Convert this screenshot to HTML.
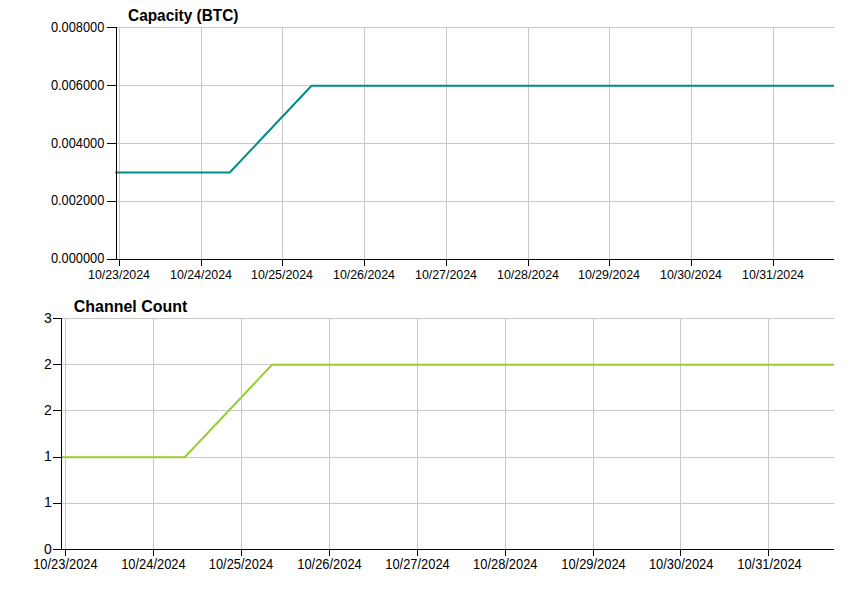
<!DOCTYPE html>
<html><head><meta charset="utf-8"><title>Charts</title>
<style>html,body{margin:0;padding:0;background:#fff;width:860px;height:600px;overflow:hidden}svg{display:block}</style>
</head><body>
<svg width="860" height="600" viewBox="0 0 860 600">
<g shape-rendering="crispEdges">
<line x1="117" y1="27.5" x2="834" y2="27.5" stroke="#c8c8c8"/>
<line x1="117" y1="85.5" x2="834" y2="85.5" stroke="#c8c8c8"/>
<line x1="117" y1="143.5" x2="834" y2="143.5" stroke="#c8c8c8"/>
<line x1="117" y1="201.5" x2="834" y2="201.5" stroke="#c8c8c8"/>
<line x1="119.5" y1="27" x2="119.5" y2="259" stroke="#c8c8c8"/>
<line x1="201.5" y1="27" x2="201.5" y2="259" stroke="#c8c8c8"/>
<line x1="282.5" y1="27" x2="282.5" y2="259" stroke="#c8c8c8"/>
<line x1="364.5" y1="27" x2="364.5" y2="259" stroke="#c8c8c8"/>
<line x1="446.5" y1="27" x2="446.5" y2="259" stroke="#c8c8c8"/>
<line x1="528.5" y1="27" x2="528.5" y2="259" stroke="#c8c8c8"/>
<line x1="609.5" y1="27" x2="609.5" y2="259" stroke="#c8c8c8"/>
<line x1="691.5" y1="27" x2="691.5" y2="259" stroke="#c8c8c8"/>
<line x1="773.5" y1="27" x2="773.5" y2="259" stroke="#c8c8c8"/>
<line x1="62" y1="318.5" x2="834" y2="318.5" stroke="#c8c8c8"/>
<line x1="62" y1="364.5" x2="834" y2="364.5" stroke="#c8c8c8"/>
<line x1="62" y1="410.5" x2="834" y2="410.5" stroke="#c8c8c8"/>
<line x1="62" y1="457.5" x2="834" y2="457.5" stroke="#c8c8c8"/>
<line x1="62" y1="503.5" x2="834" y2="503.5" stroke="#c8c8c8"/>
<line x1="65.5" y1="318" x2="65.5" y2="549" stroke="#c8c8c8"/>
<line x1="153.5" y1="318" x2="153.5" y2="549" stroke="#c8c8c8"/>
<line x1="241.5" y1="318" x2="241.5" y2="549" stroke="#c8c8c8"/>
<line x1="329.5" y1="318" x2="329.5" y2="549" stroke="#c8c8c8"/>
<line x1="417.5" y1="318" x2="417.5" y2="549" stroke="#c8c8c8"/>
<line x1="505.5" y1="318" x2="505.5" y2="549" stroke="#c8c8c8"/>
<line x1="593.5" y1="318" x2="593.5" y2="549" stroke="#c8c8c8"/>
<line x1="680.5" y1="318" x2="680.5" y2="549" stroke="#c8c8c8"/>
<line x1="768.5" y1="318" x2="768.5" y2="549" stroke="#c8c8c8"/>
</g>
<svg x="0" y="0" width="834" height="600" overflow="hidden">
<polyline points="115.3,172.5 229.75,172.5 311.5,85.7 840,85.7" fill="none" stroke="#008b8b" stroke-width="2" stroke-linejoin="round"/>
<polyline points="61.5,457.3 184.75,457.3 272,364.8 840,364.8" fill="none" stroke="#9acd32" stroke-width="2" stroke-linejoin="round"/>
</svg>
<g shape-rendering="crispEdges">
<line x1="116.5" y1="27" x2="116.5" y2="260" stroke="#000000"/>
<line x1="107" y1="27.5" x2="116" y2="27.5" stroke="#000000"/>
<line x1="107" y1="85.5" x2="116" y2="85.5" stroke="#000000"/>
<line x1="107" y1="143.5" x2="116" y2="143.5" stroke="#000000"/>
<line x1="107" y1="201.5" x2="116" y2="201.5" stroke="#000000"/>
<line x1="107" y1="259.5" x2="116" y2="259.5" stroke="#000000"/>
<line x1="116" y1="259.5" x2="834" y2="259.5" stroke="#000000"/>
<line x1="119.5" y1="260" x2="119.5" y2="266" stroke="#000000"/>
<line x1="201.5" y1="260" x2="201.5" y2="266" stroke="#000000"/>
<line x1="282.5" y1="260" x2="282.5" y2="266" stroke="#000000"/>
<line x1="364.5" y1="260" x2="364.5" y2="266" stroke="#000000"/>
<line x1="446.5" y1="260" x2="446.5" y2="266" stroke="#000000"/>
<line x1="528.5" y1="260" x2="528.5" y2="266" stroke="#000000"/>
<line x1="609.5" y1="260" x2="609.5" y2="266" stroke="#000000"/>
<line x1="691.5" y1="260" x2="691.5" y2="266" stroke="#000000"/>
<line x1="773.5" y1="260" x2="773.5" y2="266" stroke="#000000"/>
<line x1="61.5" y1="318" x2="61.5" y2="550" stroke="#000000"/>
<line x1="53" y1="318.5" x2="61" y2="318.5" stroke="#000000"/>
<line x1="53" y1="364.5" x2="61" y2="364.5" stroke="#000000"/>
<line x1="53" y1="410.5" x2="61" y2="410.5" stroke="#000000"/>
<line x1="53" y1="457.5" x2="61" y2="457.5" stroke="#000000"/>
<line x1="53" y1="503.5" x2="61" y2="503.5" stroke="#000000"/>
<line x1="53" y1="549.5" x2="61" y2="549.5" stroke="#000000"/>
<line x1="61" y1="549.5" x2="834" y2="549.5" stroke="#000000"/>
<line x1="65.5" y1="550" x2="65.5" y2="556" stroke="#000000"/>
<line x1="153.5" y1="550" x2="153.5" y2="556" stroke="#000000"/>
<line x1="241.5" y1="550" x2="241.5" y2="556" stroke="#000000"/>
<line x1="329.5" y1="550" x2="329.5" y2="556" stroke="#000000"/>
<line x1="417.5" y1="550" x2="417.5" y2="556" stroke="#000000"/>
<line x1="505.5" y1="550" x2="505.5" y2="556" stroke="#000000"/>
<line x1="593.5" y1="550" x2="593.5" y2="556" stroke="#000000"/>
<line x1="680.5" y1="550" x2="680.5" y2="556" stroke="#000000"/>
<line x1="768.5" y1="550" x2="768.5" y2="556" stroke="#000000"/>
</g>
<g font-family="'Liberation Sans', Arial, sans-serif" fill="#000">
<text x="128.0" y="21" font-weight="bold" font-size="15.6px" textLength="110.5" lengthAdjust="spacingAndGlyphs">Capacity (BTC)</text>
<text x="73.8" y="312" font-weight="bold" font-size="15.6px" textLength="113.5" lengthAdjust="spacingAndGlyphs">Channel Count</text>
<text x="104.4" y="32" font-size="14px" text-anchor="end" textLength="53.5" lengthAdjust="spacingAndGlyphs">0.008000</text>
<text x="104.4" y="90" font-size="14px" text-anchor="end" textLength="53.5" lengthAdjust="spacingAndGlyphs">0.006000</text>
<text x="104.4" y="148" font-size="14px" text-anchor="end" textLength="53.5" lengthAdjust="spacingAndGlyphs">0.004000</text>
<text x="104.4" y="205" font-size="14px" text-anchor="end" textLength="53.5" lengthAdjust="spacingAndGlyphs">0.002000</text>
<text x="104.4" y="263" font-size="14px" text-anchor="end" textLength="53.5" lengthAdjust="spacingAndGlyphs">0.000000</text>
<text x="119" y="279" font-size="13px" text-anchor="middle" textLength="62" lengthAdjust="spacingAndGlyphs">10/23/2024</text>
<text x="201" y="279" font-size="13px" text-anchor="middle" textLength="62" lengthAdjust="spacingAndGlyphs">10/24/2024</text>
<text x="282" y="279" font-size="13px" text-anchor="middle" textLength="62" lengthAdjust="spacingAndGlyphs">10/25/2024</text>
<text x="364" y="279" font-size="13px" text-anchor="middle" textLength="62" lengthAdjust="spacingAndGlyphs">10/26/2024</text>
<text x="446" y="279" font-size="13px" text-anchor="middle" textLength="62" lengthAdjust="spacingAndGlyphs">10/27/2024</text>
<text x="528" y="279" font-size="13px" text-anchor="middle" textLength="62" lengthAdjust="spacingAndGlyphs">10/28/2024</text>
<text x="609" y="279" font-size="13px" text-anchor="middle" textLength="62" lengthAdjust="spacingAndGlyphs">10/29/2024</text>
<text x="691" y="279" font-size="13px" text-anchor="middle" textLength="62" lengthAdjust="spacingAndGlyphs">10/30/2024</text>
<text x="773" y="279" font-size="13px" text-anchor="middle" textLength="62" lengthAdjust="spacingAndGlyphs">10/31/2024</text>
<text x="51.8" y="323" font-size="14px" text-anchor="end">3</text>
<text x="51.8" y="369" font-size="14px" text-anchor="end">2</text>
<text x="51.8" y="415" font-size="14px" text-anchor="end">2</text>
<text x="51.8" y="461" font-size="14px" text-anchor="end">1</text>
<text x="51.8" y="507" font-size="14px" text-anchor="end">1</text>
<text x="51.8" y="554" font-size="14px" text-anchor="end">0</text>
<text x="65.4" y="569" font-size="14px" text-anchor="middle" textLength="64.5" lengthAdjust="spacingAndGlyphs">10/23/2024</text>
<text x="153.4" y="569" font-size="14px" text-anchor="middle" textLength="64.5" lengthAdjust="spacingAndGlyphs">10/24/2024</text>
<text x="241" y="569" font-size="14px" text-anchor="middle" textLength="64.5" lengthAdjust="spacingAndGlyphs">10/25/2024</text>
<text x="329.5" y="569" font-size="14px" text-anchor="middle" textLength="64.5" lengthAdjust="spacingAndGlyphs">10/26/2024</text>
<text x="417.5" y="569" font-size="14px" text-anchor="middle" textLength="64.5" lengthAdjust="spacingAndGlyphs">10/27/2024</text>
<text x="505.3" y="569" font-size="14px" text-anchor="middle" textLength="64.5" lengthAdjust="spacingAndGlyphs">10/28/2024</text>
<text x="593.5" y="569" font-size="14px" text-anchor="middle" textLength="64.5" lengthAdjust="spacingAndGlyphs">10/29/2024</text>
<text x="681.2" y="569" font-size="14px" text-anchor="middle" textLength="64.5" lengthAdjust="spacingAndGlyphs">10/30/2024</text>
<text x="769.5" y="569" font-size="14px" text-anchor="middle" textLength="64.5" lengthAdjust="spacingAndGlyphs">10/31/2024</text>
</g>
</svg>
</body></html>
